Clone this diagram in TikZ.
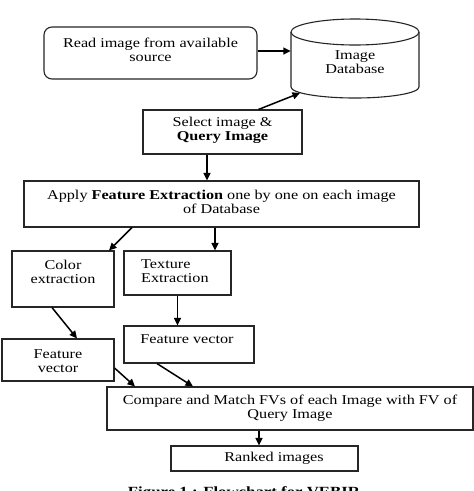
\documentclass[tikz,border=0pt]{standalone}
\usepackage{fontspec}
\setmainfont[FakeStretch=1.2]{Liberation Serif}
\usetikzlibrary{arrows.meta}
\begin{document}
\begin{tikzpicture}[x=1pt,y=-1pt,
  box/.style={draw=black!85, line width=1.1pt, inner sep=0pt, minimum width=#1},
  txt/.style={align=center, inner sep=0pt, font=\fontsize{13.5}{14}\selectfont},
  conn/.style={line width=1.5pt, -{Triangle[length=7.5pt,width=7pt]}}]
\clip (0,0) rectangle (474,491);
\fill[white] (0,0) rectangle (474,491);
% boxes
\node[box=213pt, minimum height=52pt, rounded corners=8pt] (read) at (150.5,53) {};
\node[txt] (readt) at (150.5,49.5) {Read image from available\\source};
\node[inner sep=0pt, minimum width=128pt, minimum height=79pt] (db) at (355,58.5) {};
\draw[draw=black!85, line width=1.1pt] (355,32) ellipse [x radius=64pt, y radius=13pt];
\draw[draw=black!85, line width=1.1pt] (291,32) -- (291,87) arc[start angle=180, end angle=360, x radius=64pt, y radius=11pt] -- (419,32);
\node[txt] (dbt) at (355,62) {Image\\Database};
\coordinate (dbin) at (300,93);
\node[box=159pt, minimum height=44pt] (select) at (222.5,132) {};
\node[txt] (selectt) at (222.5,130) {Select image \&\\\textbf{Query Image}};
\node[box=395pt, minimum height=46pt] (apply) at (221.5,204) {};
\node[txt] (applyt) at (221.5,202) {Apply \textbf{Feature Extraction} one by one on each image\\of Database};
\node[box=102pt, minimum height=56pt] (color) at (63,279) {};
\node[txt] (colort) at (63,271.5) {Color\\extraction};
\node[box=107pt, minimum height=44pt] (texture) at (177.5,273) {};
\node[txt, align=left, anchor=west] (texturet) at (141,271.5) {Texture\\Extraction};
\node[box=130pt, minimum height=37pt] (fv2) at (189,344.5) {};
\node[txt] (fv2t) at (187,339) {Feature vector};
\node[box=112pt, minimum height=42pt] (fv1) at (58,360) {};
\node[txt] (fv1t) at (58,361) {Feature\\vector};
\node[box=366pt, minimum height=43pt] (compare) at (290,408.5) {};
\node[txt] (comparet) at (290,408) {Compare and Match FVs of each Image with FV of\\Query Image};
\node[box=187pt, minimum height=25pt] (ranked) at (264.5,458.5) {};
\node[txt] (rankedt) at (274,458) {Ranked images};
\node[inner sep=0pt, anchor=base, font=\fontsize{14}{16}\selectfont\bfseries] (caption) at (244,496) {Figure 1 : Flowchart for VEBIR};
% connectors
\draw[conn] ([yshift=2pt]read.east) -- ([yshift=2pt]read.east -| db.west);
\draw[conn] ([xshift=36pt]select.north) -- (dbin);
\draw[conn] ([xshift=-15.5pt]select.south) -- ([xshift=-15.5pt]select.south |- apply.north);
\draw[conn] ([xshift=-89.5pt]apply.south) -- ([xshift=46pt]color.north);
\draw[conn] ([xshift=-6.5pt]apply.south) -- ([xshift=-6.5pt]apply.south |- texture.north);
\draw[conn] (texture.south) -- (texture.south |- fv2.north);
\draw[conn] ([xshift=-11pt]color.south) -- ([xshift=19pt]fv1.north);
\draw[conn] ([yshift=-8pt]fv1.east) -- ([xshift=-155pt]compare.north);
\draw[conn] ([xshift=-32pt]fv2.south) -- ([xshift=-97pt]compare.north);
\draw[conn] ([xshift=-31pt]compare.south) -- ([xshift=-31pt]compare.south |- ranked.north);
\end{tikzpicture}
\end{document}
